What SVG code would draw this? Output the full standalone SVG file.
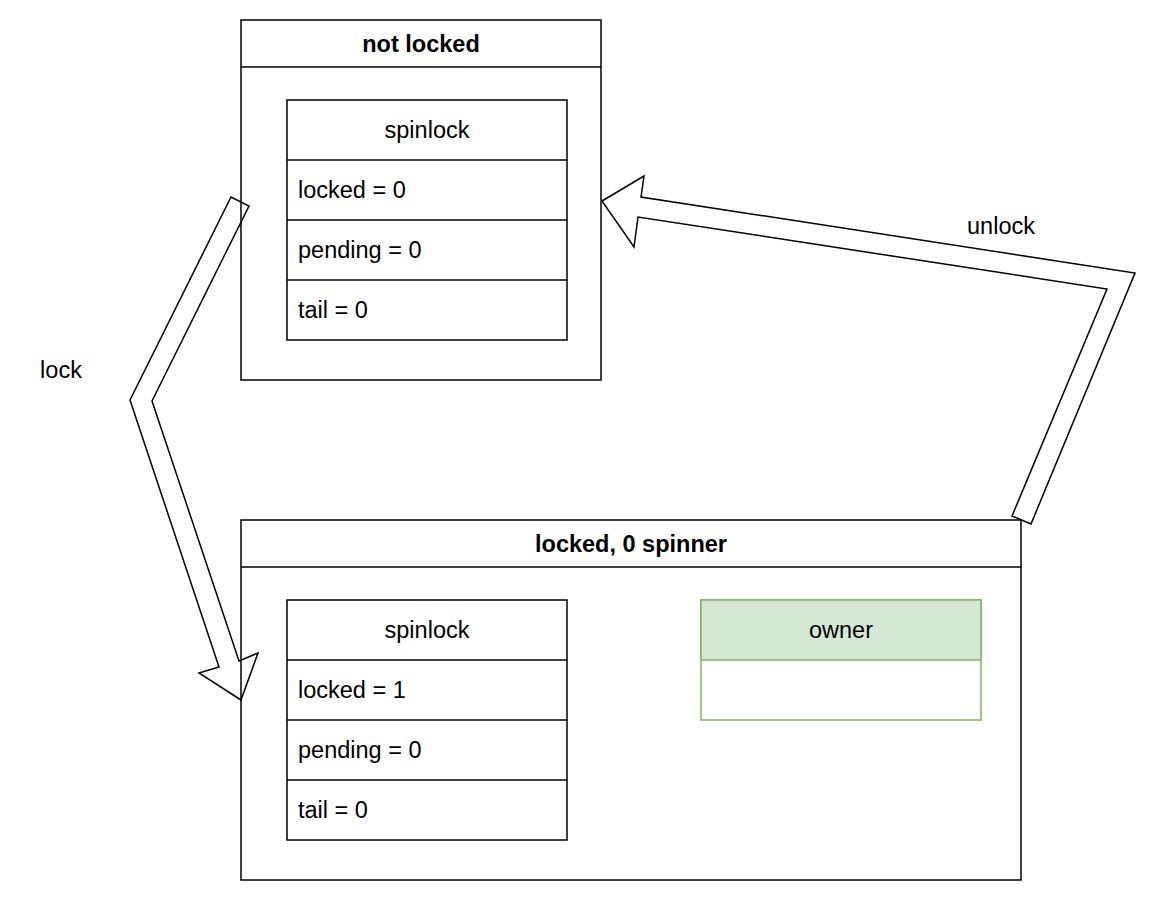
<svg xmlns="http://www.w3.org/2000/svg" width="1156" height="902" viewBox="0 0 1156 902">
<style>
text{font-family:"Liberation Sans",Arial,Helvetica,sans-serif;font-size:23.5px;fill:#000}
.b{font-weight:bold}
.c{text-anchor:middle}
.box{fill:#fff;stroke:#000;stroke-width:1.5}
.ln{stroke:#000;stroke-width:1.5;fill:none}
.arr{fill:none;stroke:#000;stroke-width:1.5;stroke-linejoin:miter}
.g{fill:#d5e8d4;stroke:#82b366;stroke-width:1.5}
.gw{fill:#fff;stroke:#82b366;stroke-width:1.5}
</style>
<rect width="1156" height="902" fill="#fff"/>
<g id="not-locked">
<rect class="box" x="241" y="20" width="360" height="360"/>
<line class="ln" x1="241" y1="67" x2="601" y2="67"/>
<text class="b c" x="421" y="52.4">not locked</text>
</g>
<g id="spinlock-1">
<rect class="box" x="287" y="100" width="280" height="240"/>
<line class="ln" x1="287" y1="160" x2="567" y2="160"/>
<line class="ln" x1="287" y1="220" x2="567" y2="220"/>
<line class="ln" x1="287" y1="280" x2="567" y2="280"/>
<text class="c" x="427" y="138.4">spinlock</text>
<text x="298" y="198.4">locked = 0</text>
<text x="298" y="258.4">pending = 0</text>
<text x="298" y="318.4">tail = 0</text>
</g>
<g id="locked-0-spinner">
<rect class="box" x="241" y="520" width="780" height="360"/>
<line class="ln" x1="241" y1="567" x2="1021" y2="567"/>
<text class="b c" x="631" y="552.4">locked, 0 spinner</text>
</g>
<g id="spinlock-2">
<rect class="box" x="287" y="600" width="280" height="240"/>
<line class="ln" x1="287" y1="660" x2="567" y2="660"/>
<line class="ln" x1="287" y1="720" x2="567" y2="720"/>
<line class="ln" x1="287" y1="780" x2="567" y2="780"/>
<text class="c" x="427" y="638.4">spinlock</text>
<text x="298" y="698.4">locked = 1</text>
<text x="298" y="758.4">pending = 0</text>
<text x="298" y="818.4">tail = 0</text>
</g>
<g id="owner">
<rect class="gw" x="701" y="600" width="280" height="120"/>
<rect class="g" x="701" y="600" width="280" height="60"/>
<text class="c" x="841" y="638.4">owner</text>
</g>
<g id="connectors">
<g id="lock-arrow">
<polygon class="arr" points="231,197 130,400 219,667 199,673 241,700 258,653 239,661 152,401 249,206"/>
<text class="c" x="61" y="378">lock</text>
</g>
<g id="unlock-arrow">
<polygon class="arr" points="602,201 644,176 641,197 1135,273 1031,524 1012,516 1107,289 638,217 634,247"/>
<text class="c" x="1001" y="234">unlock</text>
</g>
</g>
</svg>
